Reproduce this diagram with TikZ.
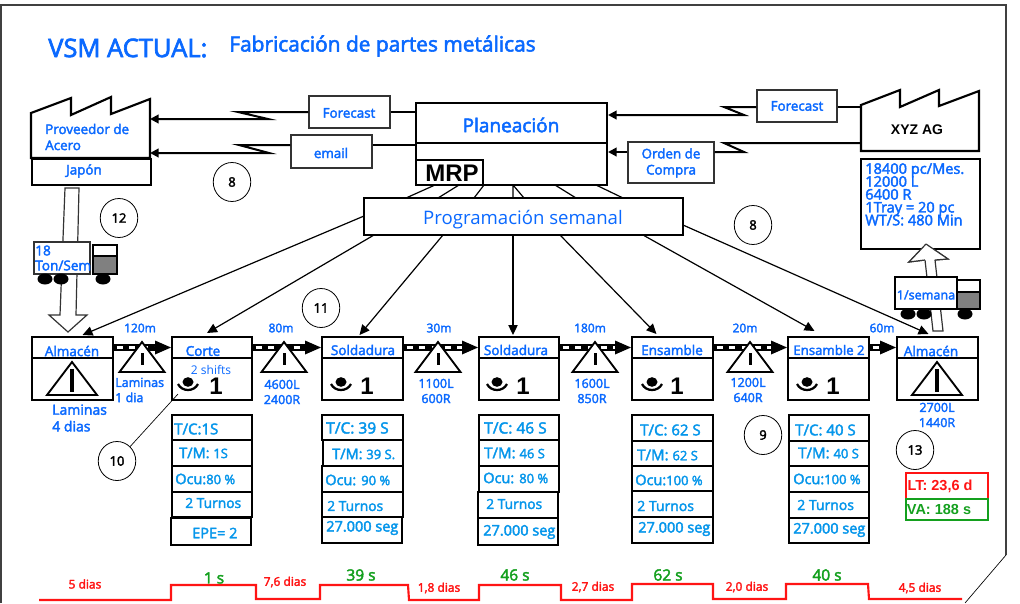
\documentclass[tikz,border=0pt]{standalone}
\usepackage{fontspec}
\setmainfont{Open Sans}
\newfontfamily\sbf{Open Sans}[FakeBold=2.6]
\newfontfamily\arl{Liberation Sans}
\usetikzlibrary{arrows.meta,fit,calc}
\definecolor{vb}{RGB}{10,105,255}
\definecolor{db}{RGB}{5,150,235}
\definecolor{vr}{RGB}{255,20,20}
\definecolor{vg}{RGB}{20,160,30}
\newcommand{\pxf}[1]{\pgfmathsetmacro\tmpfs{#1*0.75}\fontsize{\tmpfs pt}{\tmpfs pt}\selectfont}
\tikzset{
  bx/.style={draw=black,fill=white,line width=1.5pt,inner sep=0pt},
  thinbx/.style={draw=black!80,fill=white,line width=1.1pt,inner sep=0pt},
  txt/.style={inner sep=0pt,text=vb},
  dtxt/.style={inner sep=0pt,text=db,anchor=west},
  fac/.style={draw=black,fill=white,line width=1.6pt,line join=miter},
  sig/.style={draw=black,line width=1.5pt,line join=miter,-{Triangle[length=6.5pt,width=6.5pt]}},
  lnk/.style={draw=black,line width=1.5pt},
  kan/.style={draw=black,line width=.9pt,-{Triangle[length=7.5pt,width=7pt]}},
  fan/.style={draw=black,line width=.9pt},
  num/.style={draw=black,fill=white,ellipse,line width=.6pt},
  hollow/.style={draw=black!80,fill=white,line width=.9pt,line join=miter},
  inv/.style={draw=black,fill=white,line width=1.4pt,line join=miter},
  red/.style={draw=vr,line width=1.6pt},
}
\usetikzlibrary{shapes.geometric}
\newcommand{\bxx}[6]{\node[#6,fit={(#2,#3)(#4,#5)}] (#1) {};}
\newcommand{\invtri}[3]{%
  \begin{scope}[shift={(#2,#3)}]
    \draw[inv] (0,0) -- (22.5,30) -- (-22.5,30) -- cycle;
    \fill[black] (-1.5,11) rectangle (1.5,23);
  \end{scope}
  \coordinate (#1) at (#2,#3);}
\newcommand{\bigtri}[3]{%
  \begin{scope}[shift={(#2,#3)}]
    \draw[inv] (0,0) -- (25,33) -- (-25,33) -- cycle;
    \fill[black] (-2,7) rectangle (2,30);
  \end{scope}
  \coordinate (#1) at (#2,#3);}
\newcommand{\opicon}[3]{%
  \begin{scope}[shift={(#2,#3)}]
    \fill[black] (0,-1) ellipse [x radius=5.5,y radius=4.8];
    \draw[black,line width=1.7pt] (-10,1) .. controls (-6,9) and (6,9) .. (10,1);
  \end{scope}
  \coordinate (#1) at (#2,#3);}
\newcommand{\push}[2]{%
  \draw[line width=4.6pt,black] (#1.east) -- ($(#2.west)+(-11,0)$);
  \draw[line width=2.4pt,white,dash pattern=on 4.5pt off 5pt,dash phase=-2pt] (#1.east) -- ($(#2.west)+(-11,0)$);
  \fill[black] ($(#2.west)+(-16,-7)$) -- (#2.west) -- ($(#2.west)+(-16,7)$) -- cycle;}
\begin{document}
\begin{tikzpicture}[x=0.75pt,y=-0.75pt]
\useasboundingbox (0,0) rectangle (1020,603);
\fill[white] (0,0) rectangle (1020,603);
% frame
\coordinate (f1) at (1,603); \coordinate (f2) at (1,5); \coordinate (f3) at (1006,5); \coordinate (f4) at (1006,555); \coordinate (f5) at (965,603);
\draw[black!75,line width=1pt] (f1) -- (f2) -- (f3) -- (f4);
\draw[black,line width=.5pt] (f4) -- (f5);
% title
\node[txt,anchor=west,font=\pxf{25.5}\sbf] (title1) at (48,48) {VSM ACTUAL:};
\node[txt,anchor=west,font=\pxf{20.9}\sbf] (title2) at (229,46) {Fabricación de partes metálicas};

% big hollow arrows (behind trucks)
\draw[hollow] (65,188) -- (60,315) -- (49,315) -- (68,332) -- (87,315) -- (76,315) -- (79,188) -- cycle;
\draw[hollow] (926,244) -- (909,262) -- (925,260) -- (933,331) -- (943,331) -- (935,260) -- (948,259) -- cycle;

% Planning boxes
\bxx{plan}{416}{103}{607}{185}{bx}
\coordinate (pa1) at (435,185);\coordinate (pb1) at (406,198);
\coordinate (pa2) at (459,185);\coordinate (pb2) at (438,198);
\coordinate (pa3) at (484,185);\coordinate (pb3) at (474,198);
\coordinate (pa4) at (513,185);\coordinate (pb4) at (524,198);
\coordinate (pb5) at (513,198);
\coordinate (pa6) at (555,185);\coordinate (pb6) at (576,198);
\coordinate (pa7) at (596,185);\coordinate (pb7) at (623,198);
\draw[fan] (pa1)--(pb1) (pa2)--(pb2) (pa3)--(pb3) (pa4)--(pb4) (pa4)--(pb5) (pa6)--(pb6) (pa7)--(pb7);
\bxx{prog}{364}{198}{683}{235}{bx}
\node[txt,font=\pxf{18.6}] (progt) at (523,220) {Programación semanal};
\coordinate (plsl) at (416,143);\coordinate (plsr) at (607,143);
\draw[lnk] (plsl) -- (plsr);
\node[txt,font=\pxf{19}\sbf] (plant) at (511,125) {Planeación};
\bxx{mrp}{416}{160}{483}{185}{bx}
\node[inner sep=0pt,font=\arl\pxf{24}\bfseries] (mrpt) at (452,173) {MRP};

% Left supplier
\draw[fac] (31,113) -- (71,98) -- (71,115) -- (111,97) -- (111,114) -- (150,99) -- (150,158) -- (31,158) -- cycle;
\coordinate (supA) at (150,119); \coordinate (supB) at (150,153);
\node[txt,anchor=west,align=left,font=\pxf{13.4}\sbf] (supt) at (45,137) {Proveedor de\\[2pt]Acero};
\bxx{jap}{32}{159}{151}{185}{bx}
\node[txt,font=\pxf{13.4}\sbf] (japt) at (84,171) {Japón};

% Forecast / email
\bxx{fc1}{309}{96}{390}{128}{thinbx}
\node[txt,font=\pxf{13.4}\sbf] (fc1t) at (349,113) {Forecast};
\bxx{em}{291}{135}{372}{168}{thinbx}
\node[txt,font=\pxf{13.4}\sbf] (emt) at (331,153) {email};
\draw[lnk] (fc1.east |- 0,112) -- (plan.west |- 0,112);
\draw[lnk] (em.east |- 0,145) -- (plan.west |- 0,145);
\draw[sig] (fc1.west |- 0,112) -- (238,112) -- (268,119) -- (supA);
\draw[sig] (em.west |- 0,145) -- (239,145) -- (269,153) -- (supB);

% Right customer
\draw[fac] (861,105) -- (900,90) -- (900,107) -- (939,90) -- (939,106) -- (979,91) -- (979,151) -- (861,151) -- cycle;
\coordinate (cusA) at (861,107); \coordinate (cusB) at (861,143);
\node[inner sep=0pt,font=\arl\pxf{14}\bfseries] (cust) at (917,130) {XYZ AG};
\bxx{fc2}{757}{90}{837}{122}{thinbx}
\node[txt,font=\pxf{13.4}\sbf] (fc2t) at (797,106) {Forecast};
\bxx{ord}{628}{142}{714}{183}{thinbx}
\node[txt,align=center,font=\pxf{13.4}\sbf] (ordt) at (671,163) {Orden de\\[2pt]Compra};
\draw[lnk] (cusA) -- (fc2.east |- 0,107);
\draw[sig] (fc2.west |- 0,107) -- (724,107) -- (744,115) -- (plan.east |- 0,115);
\draw[lnk] (cusB) -- (724,143) -- (744,152) -- (ord.east |- 0,152);
\draw[sig] (ord.west |- 0,152) -- (plan.east |- 0,152);
\bxx{info}{861}{159}{980}{249}{bx}
\node[txt,anchor=north west,align=left,font=\pxf{14.6}\sbf] (infot) at (865,163) {18400 pc/Mes.\\[-1.3pt]12000 L\\[-1.3pt]6400 R\\[-1.3pt]1Tray = 20 pc\\[-1.3pt]WT/S: 480 Min};
\fill[white] (926,244.5) -- (910,261) -- (947,259) -- cycle;
\draw[hollow] (926,244) -- (909,262) -- (925,260) (935,260) -- (948,259) -- (926,244);

% Trucks
\bxx{trL}{34}{242}{90}{274}{thinbx}
\bxx{cabL}{93}{245}{117}{274}{bx}
\fill[black!50] (94,257) rectangle (116,273);
\draw[black,line width=1.2pt] (93,256) -- (117,256);
\fill[black] (45,279) ellipse [x radius=7.5,y radius=5.5] (61,279) ellipse [x radius=7.5,y radius=5.5] (103,279) ellipse [x radius=7.5,y radius=5.5];
\node[txt,anchor=west,align=left,font=\pxf{13.6}\sbf] (trLt) at (35,258) {18\\[1pt]Ton/Sem};
\bxx{trR}{895}{277}{957}{309}{bx}
\bxx{cabR}{957}{280}{980}{309}{bx}
\fill[black!50] (958,292) rectangle (979,308);
\draw[black,line width=1.2pt] (957,292) -- (980,292);
\fill[black] (908,314) ellipse [x radius=7.5,y radius=5.5] (924,314) ellipse [x radius=7.5,y radius=5.5] (965,314) ellipse [x radius=7.5,y radius=5.5];
\node[txt,font=\pxf{12.6}\sbf] (trRt) at (926,295) {1/semana};

% Process boxes
\bxx{h1}{32}{337}{113}{358}{bx}\bxx{b1}{32}{358}{113}{400}{bx}
\bxx{h2}{172}{337}{252}{358}{bx}\bxx{b2}{172}{358}{252}{400}{bx}
\bxx{h3}{322}{337}{403}{358}{bx}\bxx{b3}{322}{358}{403}{400}{bx}
\bxx{h4}{479}{337}{559}{358}{bx}\bxx{b4}{479}{358}{559}{400}{bx}
\bxx{h5}{632}{337}{713}{358}{bx}\bxx{b5}{632}{358}{713}{400}{bx}
\bxx{h6}{788}{337}{869}{358}{bx}\bxx{b6}{788}{358}{869}{400}{bx}
\bxx{h7}{897}{337}{978}{358}{bx}\bxx{b7}{897}{358}{978}{400}{bx}
\node[txt,font=\pxf{13.5}\sbf] (h1t) at (72,351) {Almacén};
\node[txt,font=\pxf{13.5}\sbf] (h2t) at (203,351) {Corte};
\node[txt,font=\pxf{13.5}\sbf] (h3t) at (363,350) {Soldadura};
\node[txt,font=\pxf{13.5}\sbf] (h4t) at (516,350) {Soldadura};
\node[txt,font=\pxf{13.5}\sbf] (h5t) at (672,350) {Ensamble};
\node[txt,font=\pxf{13.2}\sbf] (h6t) at (829,350) {Ensamble 2};
\node[txt,font=\pxf{13.5}\sbf] (h7t) at (931,351) {Almacén};
\bigtri{w1}{72}{362}
\bigtri{w2}{937}{362}
\node[txt,font=\pxf{12}] (shift) at (211,370) {2 shifts};
\opicon{o2}{188}{383}\opicon{o3}{341}{383}\opicon{o4}{497}{383}\opicon{o5}{652}{383}\opicon{o6}{807}{383}
\foreach \n/\xx in {a/216,b/367,c/523,d/677,e/833}{
  \node[inner sep=0pt,font=\arl\pxf{24}\bfseries] (one\n) at (\xx,386) {1};
}

% Push arrows
\push{h1}{h2}\push{h2}{h3}\push{h3}{h4}\push{h4}{h5}\push{h5}{h6}\push{h6}{h7}
\invtri{i1}{142}{342}\invtri{i2}{284}{342}\invtri{i3}{438}{342}\invtri{i4}{595}{342}\invtri{i5}{750}{342}

% Kanban arrows
\coordinate (k1) at (364,216);
\coordinate (k2) at (374,235);
\coordinate (k3) at (443,235);
\coordinate (k4) at (513,235);
\coordinate (k5) at (560,235);
\coordinate (k6) at (643,235);
\coordinate (k7) at (683,225);
\draw[kan] (k1) -- ($(h1.north)+(10,-1)$);
\draw[kan] (k2) -- ($(h2.north)+(-5,-3)$);
\draw[kan] (k3) -- ($(h3.north)+(-3,-1)$);
\draw[kan] (k4) -- ($(h4.north)+(-6,-1)$);
\draw[kan] (k5) -- ($(h5.north)+(-16,-2)$);
\draw[kan] (k6) -- ($(h6.north)+(-14,-5)$);
\draw[kan] (k7) -- ($(h7.north)+(-9,-2)$);

% inventory labels
\foreach \n/\xx/\t in {a/140/120m,b/281/80m,c/439/30m,d/590/180m,e/745/20m,f/882/60m}{
  \node[txt,font=\pxf{12}\sbf] (dist\n) at (\xx,328) {\t};
}
\node[txt,anchor=west,align=left,font=\pxf{12.5}\sbf] (lam1) at (115,390) {Laminas\\[2pt]1 dia};
\node[txt,anchor=west,align=left,font=\pxf{14}\sbf] (lam2) at (52,418) {Laminas\\[2pt]4 dias};
\node[txt,align=center,font=\pxf{12.5}\sbf] (s2) at (282,392) {4600L\\[2pt]2400R};
\node[txt,align=center,font=\pxf{12.5}\sbf] (s3) at (436,391) {1100L\\[2pt]600R};
\node[txt,align=center,font=\pxf{12.5}\sbf] (s4) at (592,391) {1600L\\[2pt]850R};
\node[txt,align=center,font=\pxf{12.5}\sbf] (s5) at (748,390) {1200L\\[2pt]640R};
\node[txt,align=center,font=\pxf{12.5}\sbf] (s7) at (937,415) {2700L\\[2pt]1440R};

% Data boxes
\bxx{c1}{172}{415}{252}{440}{bx}\bxx{c2}{172}{440}{252}{466}{bx}\bxx{c3}{172}{466}{252}{492}{bx}\bxx{c4}{172}{492}{252}{517}{bx}\bxx{c5}{171}{518}{251}{545}{bx}
\bxx{d1}{322}{415}{403}{440}{bx}\bxx{d2}{323}{440}{403}{466}{bx}\bxx{d3}{322}{466}{403}{492}{bx}\bxx{d4}{322}{492}{403}{517}{bx}\bxx{d5}{322}{517}{402}{543}{bx}
\bxx{e1}{479}{415}{559}{440}{bx}\bxx{e2}{479}{440}{559}{466}{bx}\bxx{e3}{479}{466}{559}{492}{bx}\bxx{e4}{478}{492}{558}{518}{bx}\bxx{e5}{478}{518}{558}{545}{bx}
\bxx{g1}{632}{415}{713}{441}{bx}\bxx{g2}{632}{441}{713}{466}{bx}\bxx{g3}{632}{466}{713}{491}{bx}\bxx{g4}{632}{491}{713}{517}{bx}\bxx{g5}{632}{517}{713}{543}{bx}
\bxx{j1}{789}{415}{869}{441}{bx}\bxx{j2}{789}{441}{869}{466}{bx}\bxx{j3}{789}{466}{869}{492}{bx}\bxx{j4}{789}{492}{869}{518}{bx}\bxx{j5}{789}{518}{869}{543}{bx}

\newcommand{\dl}[5]{\node[dtxt,font=\pxf{#4}\sbf] (#1) at (#2,#3) {#5};}
\dl{c1t}{174}{429}{15}{T/C:1S}
\dl{c2t}{179}{453}{14.5}{T/M: \pxf{13}1S}
\dl{c3t}{175}{479}{14.5}{Ocu:\pxf{13}80 \%}
\dl{c4t}{185}{503}{13.8}{2 Turnos}
\dl{c5t}{192}{533}{14.5}{EPE= 2}
\dl{d1t}{326}{428}{15.5}{T/C: 39 S}
\dl{d2t}{332}{454}{14.5}{T/M: \pxf{13}39 S.}
\dl{d3t}{325}{480}{14.5}{Ocu: \pxf{13}90 \%}
\dl{d4t}{327}{506}{13.8}{2 Turnos}
\dl{d5t}{326}{528}{14.5}{27.000 seg}
\dl{e1t}{484}{428}{15.5}{T/C: 46 S}
\dl{e2t}{484}{453}{15}{T/M: \pxf{13}46 S}
\dl{e3t}{483}{478}{14.5}{Ocu: \pxf{13}80 \%}
\dl{e4t}{486}{504}{13.8}{2 Turnos}
\dl{e5t}{483}{532}{14.5}{27.000 seg}
\dl{g1t}{640}{430}{15}{T/C: 62 S}
\dl{g2t}{637}{455}{15}{T/M: \pxf{13}62 S}
\dl{g3t}{635}{480}{14.5}{Ocu:\pxf{13}100 \%}
\dl{g4t}{637}{506}{14}{2 Turnos}
\dl{g5t}{638}{529}{14.5}{27.000 seg}
\dl{j1t}{795}{430}{15}{T/C: 40 S}
\dl{j2t}{798}{453}{15}{T/M: \pxf{13}40 S}
\dl{j3t}{793}{479}{14.5}{Ocu:\pxf{13}100 \%}
\dl{j4t}{797}{505}{14}{2 Turnos}
\dl{j5t}{793}{530}{14.5}{27.000 seg}

% numbered circles
\foreach \n/\xx/\yy/\t in {n8a/232/182/8,n12/119/218/12,n11/321/308/11,n8b/753/225/8,n10/117/461/10,n9/763/435/9,n13/915/450/13}{
  \node[num,minimum width=37.5pt*.75,minimum height=39pt*.75,inner sep=0pt,font=\pxf{13}\sbf] (\n) at (\xx,\yy) {\t};
}
\coordinate (tgt) at (178,394);
\draw[black,line width=.5pt] (n10) -- (tgt);

% Summary
\bxx{lt}{906}{473}{988}{499}{draw=vr,line width=1.4pt,inner sep=0pt}
\bxx{va}{906}{499}{988}{520}{draw=vg,line width=1.4pt,inner sep=0pt}
\node[inner sep=0pt,text=vr,font=\arl\pxf{14.5}\bfseries] (ltt) at (940,486) {LT: 23,6 d};
\node[inner sep=0pt,text=vg,font=\arl\pxf{14.5}\bfseries] (vat) at (939,509.5) {VA: 188 s};

% Timeline
\draw[red] (39,600) -- (171,600) -- (171,585) -- (256,585) -- (256,599) -- (320,599) -- (320,585) -- (408,585) -- (409,600) -- (479,600) -- (479,585) -- (561,585) -- (561,600) -- (632,600) -- (632,584) -- (713,584) -- (713,599) -- (786,599) -- (786,584) -- (868,584) -- (869,599) -- (962,599);
\foreach \n/\xx/\yy/\t in {ta/85/584/5 dias,tb/285/582/{7,6 dias},tc/439/588/{1,8 dias},td/593/587/{2,7 dias},te/747/587/{2,0 dias},tf/920/588/{4,5 dias}}{
  \node[inner sep=0pt,text=vr,font=\pxf{12}\sbf] (\n) at (\xx,\yy) {\t};
}
\foreach \n/\xx/\yy/\t in {va1/214/578/1 s,va2/361/575/39 s,va3/515/575/46 s,va4/668/575/62 s,va5/827/575/40 s}{
  \node[inner sep=0pt,text=vg,font=\pxf{15.5}\sbf] (\n) at (\xx,\yy) {\t};
}
\end{tikzpicture}
\end{document}
